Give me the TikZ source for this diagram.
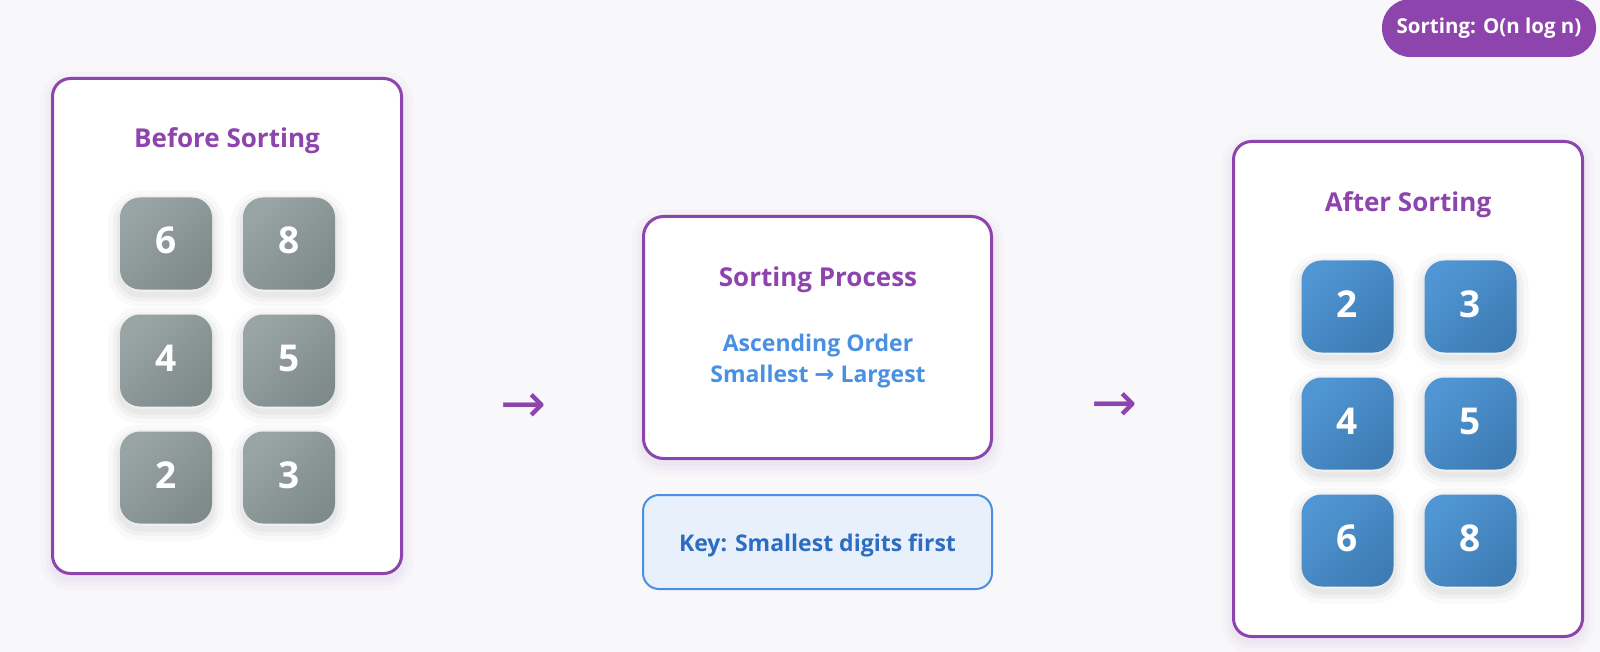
\documentclass[tikz,border=0pt]{standalone}
\usepackage{fontspec}
\setmainfont{Open Sans}
\newfontfamily\symfont{DejaVu Sans}
\usetikzlibrary{arrows.meta,positioning}
\usepackage{xcolor}
\definecolor{pagebg}{HTML}{F8F8FA}
\definecolor{accent}{HTML}{8E44AD}
\definecolor{accent2}{HTML}{4A90E2}
\definecolor{keytext}{HTML}{2D6CC0}
\definecolor{keyfill}{HTML}{E8F1FB}
\definecolor{grayA}{HTML}{99A4A5}
\definecolor{grayB}{HTML}{7F8B8B}
\definecolor{blueA}{HTML}{5096D4}
\definecolor{blueB}{HTML}{3E7CB4}

\tikzset{
  glow/.style={
    preaction={draw=#1, draw opacity=0.025, line width=24pt, transform canvas={yshift=-5pt}},
    preaction={draw=#1, draw opacity=0.03, line width=14pt, transform canvas={yshift=-5pt}},
    preaction={draw=#1, draw opacity=0.035, line width=6pt, transform canvas={yshift=-5pt}}},
  panel/.style={glow=accent, draw=accent, line width=3pt, fill=white, rounded corners=18pt,
    minimum width=349pt, minimum height=495pt},
  tile/.style={glow=black, minimum size=92pt, inner sep=0pt, outer sep=0pt, rounded corners=20pt,
    text=white, text height=26pt, text depth=5pt, font=\fontsize{37}{40}\selectfont\bfseries},
  graytile/.style={tile, top color=grayA, bottom color=grayB, shading angle=45},
  bluetile/.style={tile, top color=blueA, bottom color=blueB, shading angle=45},
  title/.style={font=\fontsize{26}{30}\selectfont\bfseries, text=accent},
  flow/.style={font=\symfont\fontsize{55}{58}\selectfont, text=accent, inner sep=0pt}
}

\begin{document}
\begin{tikzpicture}[x=1pt, y=-1pt]
      \fill[pagebg] (0,0) rectangle (1600,652);
      \useasboundingbox (0,0) rectangle (1600,652);

      % Complexity badge
      \node[fill=accent, rounded corners=28.5pt, minimum width=214pt, minimum height=58pt,
        text=white, font=\fontsize{20.5}{24}\selectfont\bfseries]
        (badge) at (1489,28) {Sorting: O(n log n)};

      % Before sorting
      \node[panel] (before) at (227,326) {};
      \node[title] (beforetitle) at (227,141) {Before Sorting};
      \node[graytile] (b6) at (166,243.5) {6};
      \node[graytile, right=31pt of b6] (b8) {8};
      \node[graytile, below=25pt of b6] (b4) {4};
      \node[graytile, right=31pt of b4] (b5) {5};
      \node[graytile, below=25pt of b4] (b2) {2};
      \node[graytile, right=31pt of b2] (b3) {3};

      % Sorting process
      \node[glow=accent, draw=accent, line width=3pt, fill=white, rounded corners=20pt,
        minimum width=348pt, minimum height=242pt]
        (process) at (817.5,337.5) {};
      \node[title] (processtitle) at (818,280) {Sorting Process};
      \node[font=\fontsize{23}{31}\selectfont\bfseries, text=accent2, align=center]
        (order) at (818,361.5) {Ascending Order\\Smallest {\symfont\fontsize{24}{31}\selectfont →} Largest};

      % Key note
      \node[draw=accent2, line width=2pt, fill=keyfill, rounded corners=16pt,
        minimum width=349pt, minimum height=94pt, text height=20pt, text depth=2pt,
        text=keytext, font=\fontsize{23}{26}\selectfont\bfseries]
        (key) at (817.5,542) {Key: Smallest digits first};

      % Arrows between stages
      \node[flow] (flow1) at (523.5,408) {→};
      \node[flow] (flow2) at (1114.5,407) {→};

      % After sorting
      \node[panel] (after) at (1408,389) {};
      \node[title] (aftertitle) at (1408,205) {After Sorting};
      \node[bluetile] (a2) at (1347.5,306.5) {2};
      \node[bluetile, right=31pt of a2] (a3) {3};
      \node[bluetile, below=25pt of a2] (a4) {4};
      \node[bluetile, right=31pt of a4] (a5) {5};
      \node[bluetile, below=25pt of a4] (a6) {6};
      \node[bluetile, right=31pt of a6] (a8) {8};
    \end{tikzpicture}
\end{document}
